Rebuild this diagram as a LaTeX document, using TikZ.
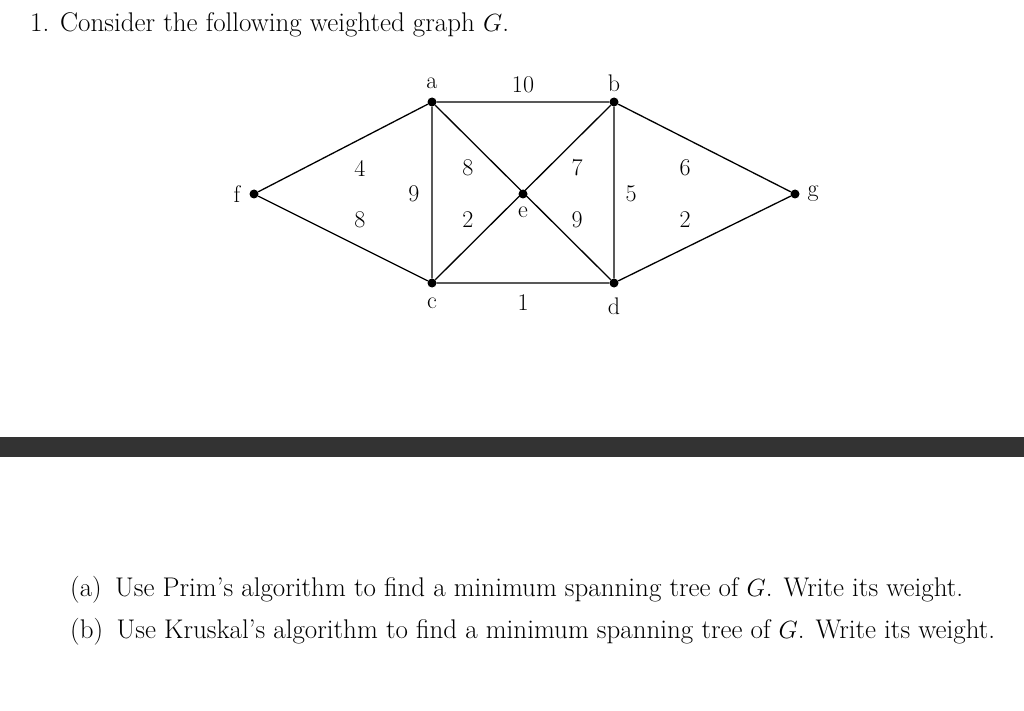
\documentclass[tikz,border=0pt]{standalone}
\begin{document}
\begin{tikzpicture}[x=1pt,y=-1pt,
  vtx/.style={circle,fill=black,inner sep=0pt,minimum size=9pt},
  edge/.style={draw,line width=1.3pt},
  wt/.style={font=\fontsize{24}{28}\selectfont,inner sep=1pt},
  txt/.style={font=\fontsize{27}{31}\selectfont,anchor=west,inner sep=0pt}]
\useasboundingbox (0,0) rectangle (1024,711);
\fill[white] (0,0) rectangle (1024,711);
\node[txt] (title) at (30,25) {1. Consider the following weighted graph $G$.};
\node[vtx] (a) at (432,102) {};
\node[vtx] (b) at (614,102) {};
\node[vtx] (f) at (254,194) {};
\node[vtx] (e) at (523,194) {};
\node[vtx] (g) at (795,194) {};
\node[vtx] (c) at (432,283) {};
\node[vtx] (d) at (614,283) {};
\draw[edge] (a)--(b) (a)--(f) (f)--(c) (a)--(c) (a)--(d) (c)--(b) (c)--(d) (b)--(d) (b)--(g) (g)--(d);
\node[wt] (la) at (432,83) {a};
\node[wt] (lb) at (614,83) {b};
\node[wt] (lc) at (432,303) {c};
\node[wt] (ld) at (614,306) {d};
\node[wt] (le) at (523,212) {e};
\node[wt] (lf) at (237,194) {f};
\node[wt] (lg) at (813,194) {g};
\node[wt] (w1) at (523,85) {10};
\node[wt] (w2) at (360,168) {4};
\node[wt] (w3) at (360,220) {8};
\node[wt] (w4) at (414,194) {9};
\node[wt] (w5) at (468,168) {8};
\node[wt] (w6) at (468,220) {2};
\node[wt] (w7) at (577,168) {7};
\node[wt] (w8) at (577,220) {9};
\node[wt] (w9) at (631,194) {5};
\node[wt] (w10) at (685,168) {6};
\node[wt] (w11) at (685,220) {2};
\node[wt] (w12) at (523,303) {1};
\fill[black!80] (0,437) rectangle (1024,457);
\node[txt] (qa) at (70,590) {(a)\enspace Use Prim's algorithm to find a minimum spanning tree of $G$. Write its weight.};
\node[txt] (qb) at (70,632) {(b)\enspace Use Kruskal's algorithm to find a minimum spanning tree of $G$. Write its weight.};
\end{tikzpicture}
\end{document}
